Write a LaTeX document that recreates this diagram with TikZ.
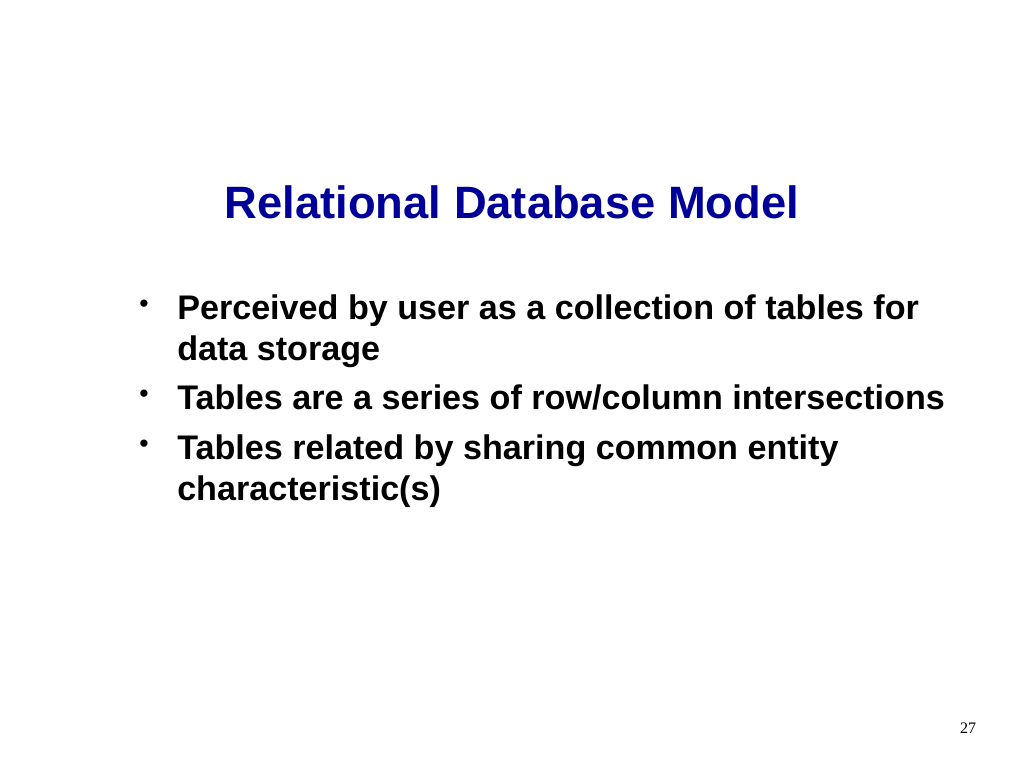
\documentclass[tikz,border=0pt]{standalone}
\usepackage{fontspec}
\setmainfont{Liberation Sans}
\newfontfamily\serifnum{Liberation Serif}
\definecolor{titleblue}{RGB}{0,0,153}
\begin{document}
\begin{tikzpicture}[x=0.75pt,y=-0.75pt,
  bodytext/.style={anchor=base west,inner sep=0pt,font=\fontsize{25.6}{30}\selectfont\bfseries},
  dot/.style={anchor=base west,inner sep=0pt,font=\fontsize{20}{24}\selectfont}]
\useasboundingbox[fill=white] (0,0) rectangle (1024,768);

% Title
\node[anchor=base,inner sep=0pt,text=titleblue,font=\fontsize{34}{40}\selectfont\bfseries]
  (title) at (512,218) {Relational Database Model};

% Bullets
\node[dot] (b1) at (139,312) {\textbullet};
\node[bodytext] (l1) at (177,319) {Perceived by user as a collection of tables for};
\node[bodytext] (l1b) at (177,360) {data storage};
\node[dot] (b2) at (139,402) {\textbullet};
\node[bodytext] (l2) at (177,409) {Tables are a series of row/column intersections};
\node[dot] (b3) at (139,452) {\textbullet};
\node[bodytext] (l3) at (177,459) {Tables related by sharing common entity};
\node[bodytext] (l3b) at (177,500) {characteristic(s)};

% Page number
\node[anchor=base,inner sep=0pt,font=\serifnum\fontsize{12}{14}\selectfont] (page) at (968,733) {27};
\end{tikzpicture}
\end{document}
